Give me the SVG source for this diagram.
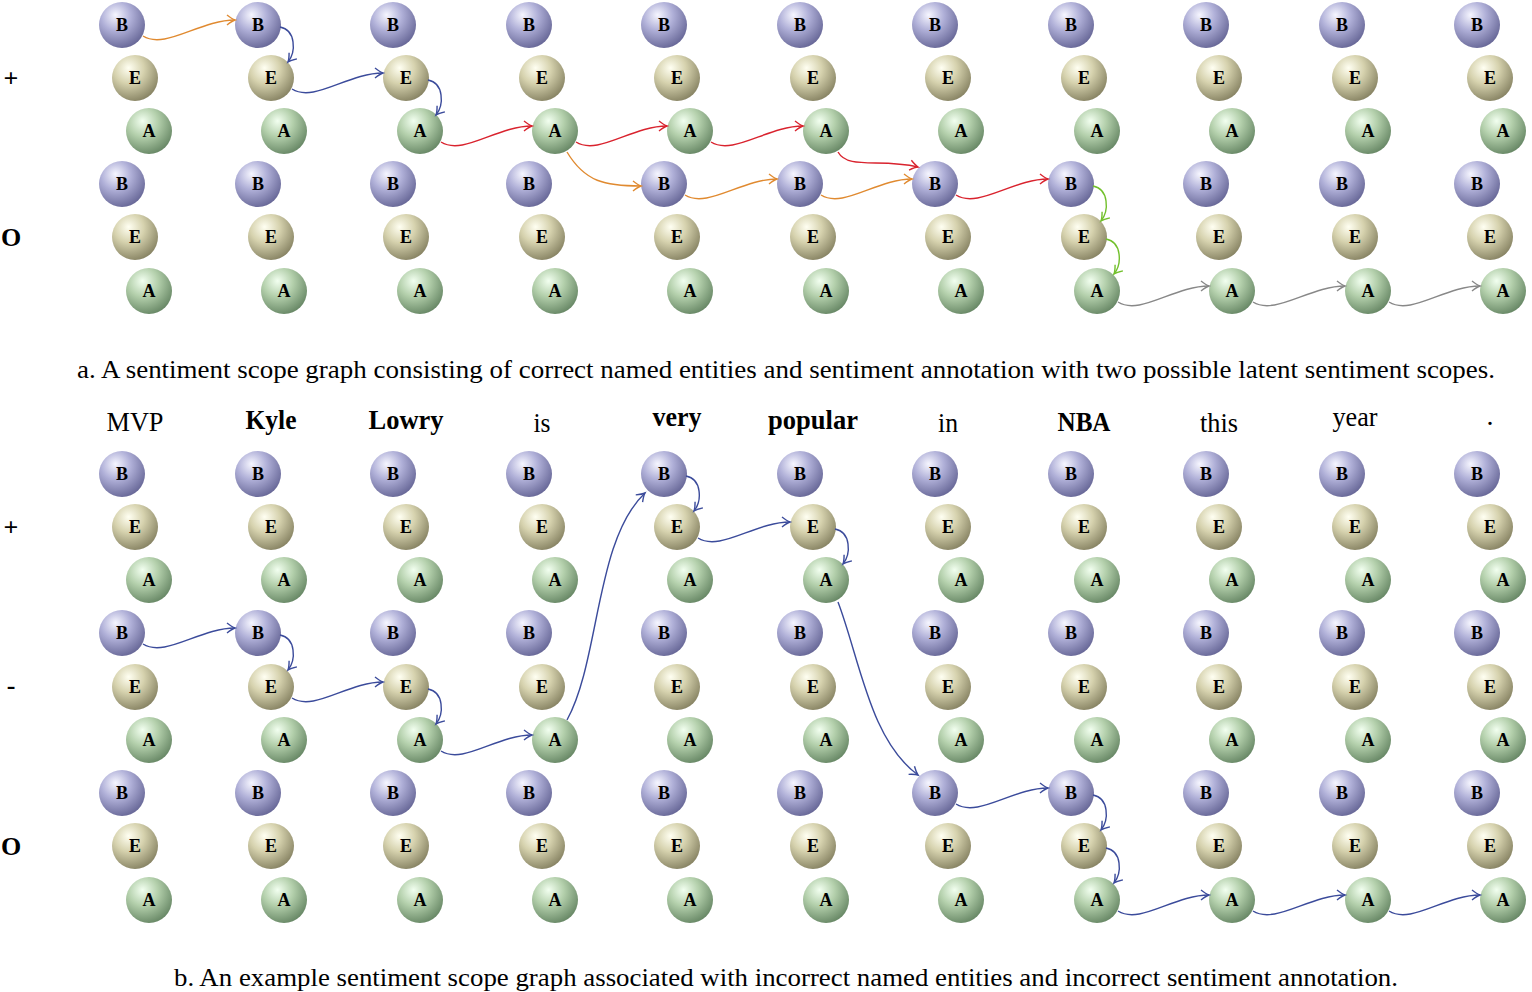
<svg xmlns="http://www.w3.org/2000/svg" width="1532" height="992" viewBox="0 0 1532 992">
<style>
.b{fill:url(#gB)}
.e{fill:url(#gE)}
.a{fill:url(#gA)}
.l{font-family:"Liberation Serif",serif;font-weight:bold;font-size:18px;text-anchor:middle;fill:#000}
.rl{font-family:"Liberation Serif",serif;font-weight:bold;font-size:26px;text-anchor:middle;fill:#000}
.cap{font-family:"Liberation Serif",serif;font-size:26px;fill:#000}
.w{font-family:"Liberation Serif",serif;font-size:28px;text-anchor:middle;fill:#000}
.wb{font-family:"Liberation Serif",serif;font-size:28px;font-weight:bold;text-anchor:middle;fill:#000}
.c{fill:none;stroke-width:1.4}
.or{stroke:#e08a30;marker-end:url(#mOr)}
.bl{stroke:#3b4b9b;marker-end:url(#mBl)}
.rd{stroke:#d9232e;marker-end:url(#mRd)}
.gr{stroke:#72c02c;marker-end:url(#mGr)}
.gy{stroke:#888888;marker-end:url(#mGy)}
</style>
<defs>
<radialGradient id="gB" cx="0.38" cy="0.32" r="0.72" fx="0.36" fy="0.28">
<stop offset="0" stop-color="#f6f6ff"/><stop offset="0.45" stop-color="#b0b0d8"/><stop offset="1" stop-color="#666696"/>
</radialGradient>
<radialGradient id="gE" cx="0.38" cy="0.32" r="0.72" fx="0.36" fy="0.28">
<stop offset="0" stop-color="#fffff2"/><stop offset="0.45" stop-color="#d6d2ae"/><stop offset="1" stop-color="#868262"/>
</radialGradient>
<radialGradient id="gA" cx="0.38" cy="0.32" r="0.72" fx="0.36" fy="0.28">
<stop offset="0" stop-color="#f2fff0"/><stop offset="0.45" stop-color="#b4d0ac"/><stop offset="1" stop-color="#668664"/>
</radialGradient>
<marker id="mOr" markerUnits="userSpaceOnUse" markerWidth="16" markerHeight="16" refX="0" refY="0" viewBox="-10 -8 12 16" orient="auto" overflow="visible"><path d="M-8,-5 Q-3,-1 0,0 Q-3,1 -8,5" fill="none" stroke="#e08a30" stroke-width="1.4"/></marker>
<marker id="mBl" markerUnits="userSpaceOnUse" markerWidth="16" markerHeight="16" refX="0" refY="0" viewBox="-10 -8 12 16" orient="auto" overflow="visible"><path d="M-8,-5 Q-3,-1 0,0 Q-3,1 -8,5" fill="none" stroke="#3b4b9b" stroke-width="1.4"/></marker>
<marker id="mRd" markerUnits="userSpaceOnUse" markerWidth="16" markerHeight="16" refX="0" refY="0" viewBox="-10 -8 12 16" orient="auto" overflow="visible"><path d="M-8,-5 Q-3,-1 0,0 Q-3,1 -8,5" fill="none" stroke="#d9232e" stroke-width="1.4"/></marker>
<marker id="mGr" markerUnits="userSpaceOnUse" markerWidth="16" markerHeight="16" refX="0" refY="0" viewBox="-10 -8 12 16" orient="auto" overflow="visible"><path d="M-8,-5 Q-3,-1 0,0 Q-3,1 -8,5" fill="none" stroke="#72c02c" stroke-width="1.4"/></marker>
<marker id="mGy" markerUnits="userSpaceOnUse" markerWidth="16" markerHeight="16" refX="0" refY="0" viewBox="-10 -8 12 16" orient="auto" overflow="visible"><path d="M-8,-5 Q-3,-1 0,0 Q-3,1 -8,5" fill="none" stroke="#888888" stroke-width="1.4"/></marker>
</defs>
<rect width="1532" height="992" fill="#fff"/>

<!-- Row labels -->
<g id="row-labels">
<text class="rl" x="11" y="87">+</text>
<text class="rl" x="11" y="246">O</text>
<text class="rl" x="11" y="536">+</text>
<text class="rl" x="11" y="694">-</text>
<text class="rl" x="11" y="855">O</text>
</g>

<!-- Part a nodes -->
<g id="part-a-nodes">
<g id="a-pos-B0"><circle class="b" cx="122" cy="25" r="23"/><text class="l" x="122" y="31">B</text></g>
<g id="a-pos-B1"><circle class="b" cx="258" cy="25" r="23"/><text class="l" x="258" y="31">B</text></g>
<g id="a-pos-B2"><circle class="b" cx="393" cy="25" r="23"/><text class="l" x="393" y="31">B</text></g>
<g id="a-pos-B3"><circle class="b" cx="529" cy="25" r="23"/><text class="l" x="529" y="31">B</text></g>
<g id="a-pos-B4"><circle class="b" cx="664" cy="25" r="23"/><text class="l" x="664" y="31">B</text></g>
<g id="a-pos-B5"><circle class="b" cx="800" cy="25" r="23"/><text class="l" x="800" y="31">B</text></g>
<g id="a-pos-B6"><circle class="b" cx="935" cy="25" r="23"/><text class="l" x="935" y="31">B</text></g>
<g id="a-pos-B7"><circle class="b" cx="1071" cy="25" r="23"/><text class="l" x="1071" y="31">B</text></g>
<g id="a-pos-B8"><circle class="b" cx="1206" cy="25" r="23"/><text class="l" x="1206" y="31">B</text></g>
<g id="a-pos-B9"><circle class="b" cx="1342" cy="25" r="23"/><text class="l" x="1342" y="31">B</text></g>
<g id="a-pos-B10"><circle class="b" cx="1477" cy="25" r="23"/><text class="l" x="1477" y="31">B</text></g>

<g id="a-pos-E0"><circle class="e" cx="135" cy="78" r="23"/><text class="l" x="135" y="84">E</text></g>
<g id="a-pos-E1"><circle class="e" cx="271" cy="78" r="23"/><text class="l" x="271" y="84">E</text></g>
<g id="a-pos-E2"><circle class="e" cx="406" cy="78" r="23"/><text class="l" x="406" y="84">E</text></g>
<g id="a-pos-E3"><circle class="e" cx="542" cy="78" r="23"/><text class="l" x="542" y="84">E</text></g>
<g id="a-pos-E4"><circle class="e" cx="677" cy="78" r="23"/><text class="l" x="677" y="84">E</text></g>
<g id="a-pos-E5"><circle class="e" cx="813" cy="78" r="23"/><text class="l" x="813" y="84">E</text></g>
<g id="a-pos-E6"><circle class="e" cx="948" cy="78" r="23"/><text class="l" x="948" y="84">E</text></g>
<g id="a-pos-E7"><circle class="e" cx="1084" cy="78" r="23"/><text class="l" x="1084" y="84">E</text></g>
<g id="a-pos-E8"><circle class="e" cx="1219" cy="78" r="23"/><text class="l" x="1219" y="84">E</text></g>
<g id="a-pos-E9"><circle class="e" cx="1355" cy="78" r="23"/><text class="l" x="1355" y="84">E</text></g>
<g id="a-pos-E10"><circle class="e" cx="1490" cy="78" r="23"/><text class="l" x="1490" y="84">E</text></g>

<g id="a-pos-A0"><circle class="a" cx="149" cy="131" r="23"/><text class="l" x="149" y="137">A</text></g>
<g id="a-pos-A1"><circle class="a" cx="284" cy="131" r="23"/><text class="l" x="284" y="137">A</text></g>
<g id="a-pos-A2"><circle class="a" cx="420" cy="131" r="23"/><text class="l" x="420" y="137">A</text></g>
<g id="a-pos-A3"><circle class="a" cx="555" cy="131" r="23"/><text class="l" x="555" y="137">A</text></g>
<g id="a-pos-A4"><circle class="a" cx="690" cy="131" r="23"/><text class="l" x="690" y="137">A</text></g>
<g id="a-pos-A5"><circle class="a" cx="826" cy="131" r="23"/><text class="l" x="826" y="137">A</text></g>
<g id="a-pos-A6"><circle class="a" cx="961" cy="131" r="23"/><text class="l" x="961" y="137">A</text></g>
<g id="a-pos-A7"><circle class="a" cx="1097" cy="131" r="23"/><text class="l" x="1097" y="137">A</text></g>
<g id="a-pos-A8"><circle class="a" cx="1232" cy="131" r="23"/><text class="l" x="1232" y="137">A</text></g>
<g id="a-pos-A9"><circle class="a" cx="1368" cy="131" r="23"/><text class="l" x="1368" y="137">A</text></g>
<g id="a-pos-A10"><circle class="a" cx="1503" cy="131" r="23"/><text class="l" x="1503" y="137">A</text></g>

<g id="a-o-B0"><circle class="b" cx="122" cy="184" r="23"/><text class="l" x="122" y="190">B</text></g>
<g id="a-o-B1"><circle class="b" cx="258" cy="184" r="23"/><text class="l" x="258" y="190">B</text></g>
<g id="a-o-B2"><circle class="b" cx="393" cy="184" r="23"/><text class="l" x="393" y="190">B</text></g>
<g id="a-o-B3"><circle class="b" cx="529" cy="184" r="23"/><text class="l" x="529" y="190">B</text></g>
<g id="a-o-B4"><circle class="b" cx="664" cy="184" r="23"/><text class="l" x="664" y="190">B</text></g>
<g id="a-o-B5"><circle class="b" cx="800" cy="184" r="23"/><text class="l" x="800" y="190">B</text></g>
<g id="a-o-B6"><circle class="b" cx="935" cy="184" r="23"/><text class="l" x="935" y="190">B</text></g>
<g id="a-o-B7"><circle class="b" cx="1071" cy="184" r="23"/><text class="l" x="1071" y="190">B</text></g>
<g id="a-o-B8"><circle class="b" cx="1206" cy="184" r="23"/><text class="l" x="1206" y="190">B</text></g>
<g id="a-o-B9"><circle class="b" cx="1342" cy="184" r="23"/><text class="l" x="1342" y="190">B</text></g>
<g id="a-o-B10"><circle class="b" cx="1477" cy="184" r="23"/><text class="l" x="1477" y="190">B</text></g>

<g id="a-o-E0"><circle class="e" cx="135" cy="237" r="23"/><text class="l" x="135" y="243">E</text></g>
<g id="a-o-E1"><circle class="e" cx="271" cy="237" r="23"/><text class="l" x="271" y="243">E</text></g>
<g id="a-o-E2"><circle class="e" cx="406" cy="237" r="23"/><text class="l" x="406" y="243">E</text></g>
<g id="a-o-E3"><circle class="e" cx="542" cy="237" r="23"/><text class="l" x="542" y="243">E</text></g>
<g id="a-o-E4"><circle class="e" cx="677" cy="237" r="23"/><text class="l" x="677" y="243">E</text></g>
<g id="a-o-E5"><circle class="e" cx="813" cy="237" r="23"/><text class="l" x="813" y="243">E</text></g>
<g id="a-o-E6"><circle class="e" cx="948" cy="237" r="23"/><text class="l" x="948" y="243">E</text></g>
<g id="a-o-E7"><circle class="e" cx="1084" cy="237" r="23"/><text class="l" x="1084" y="243">E</text></g>
<g id="a-o-E8"><circle class="e" cx="1219" cy="237" r="23"/><text class="l" x="1219" y="243">E</text></g>
<g id="a-o-E9"><circle class="e" cx="1355" cy="237" r="23"/><text class="l" x="1355" y="243">E</text></g>
<g id="a-o-E10"><circle class="e" cx="1490" cy="237" r="23"/><text class="l" x="1490" y="243">E</text></g>

<g id="a-o-A0"><circle class="a" cx="149" cy="291" r="23"/><text class="l" x="149" y="297">A</text></g>
<g id="a-o-A1"><circle class="a" cx="284" cy="291" r="23"/><text class="l" x="284" y="297">A</text></g>
<g id="a-o-A2"><circle class="a" cx="420" cy="291" r="23"/><text class="l" x="420" y="297">A</text></g>
<g id="a-o-A3"><circle class="a" cx="555" cy="291" r="23"/><text class="l" x="555" y="297">A</text></g>
<g id="a-o-A4"><circle class="a" cx="690" cy="291" r="23"/><text class="l" x="690" y="297">A</text></g>
<g id="a-o-A5"><circle class="a" cx="826" cy="291" r="23"/><text class="l" x="826" y="297">A</text></g>
<g id="a-o-A6"><circle class="a" cx="961" cy="291" r="23"/><text class="l" x="961" y="297">A</text></g>
<g id="a-o-A7"><circle class="a" cx="1097" cy="291" r="23"/><text class="l" x="1097" y="297">A</text></g>
<g id="a-o-A8"><circle class="a" cx="1232" cy="291" r="23"/><text class="l" x="1232" y="297">A</text></g>
<g id="a-o-A9"><circle class="a" cx="1368" cy="291" r="23"/><text class="l" x="1368" y="297">A</text></g>
<g id="a-o-A10"><circle class="a" cx="1503" cy="291" r="23"/><text class="l" x="1503" y="297">A</text></g>
</g>

<!-- Part b nodes -->
<g id="part-b-nodes">
<g id="b-pos-B0"><circle class="b" cx="122" cy="474" r="23"/><text class="l" x="122" y="480">B</text></g>
<g id="b-pos-B1"><circle class="b" cx="258" cy="474" r="23"/><text class="l" x="258" y="480">B</text></g>
<g id="b-pos-B2"><circle class="b" cx="393" cy="474" r="23"/><text class="l" x="393" y="480">B</text></g>
<g id="b-pos-B3"><circle class="b" cx="529" cy="474" r="23"/><text class="l" x="529" y="480">B</text></g>
<g id="b-pos-B4"><circle class="b" cx="664" cy="474" r="23"/><text class="l" x="664" y="480">B</text></g>
<g id="b-pos-B5"><circle class="b" cx="800" cy="474" r="23"/><text class="l" x="800" y="480">B</text></g>
<g id="b-pos-B6"><circle class="b" cx="935" cy="474" r="23"/><text class="l" x="935" y="480">B</text></g>
<g id="b-pos-B7"><circle class="b" cx="1071" cy="474" r="23"/><text class="l" x="1071" y="480">B</text></g>
<g id="b-pos-B8"><circle class="b" cx="1206" cy="474" r="23"/><text class="l" x="1206" y="480">B</text></g>
<g id="b-pos-B9"><circle class="b" cx="1342" cy="474" r="23"/><text class="l" x="1342" y="480">B</text></g>
<g id="b-pos-B10"><circle class="b" cx="1477" cy="474" r="23"/><text class="l" x="1477" y="480">B</text></g>

<g id="b-pos-E0"><circle class="e" cx="135" cy="527" r="23"/><text class="l" x="135" y="533">E</text></g>
<g id="b-pos-E1"><circle class="e" cx="271" cy="527" r="23"/><text class="l" x="271" y="533">E</text></g>
<g id="b-pos-E2"><circle class="e" cx="406" cy="527" r="23"/><text class="l" x="406" y="533">E</text></g>
<g id="b-pos-E3"><circle class="e" cx="542" cy="527" r="23"/><text class="l" x="542" y="533">E</text></g>
<g id="b-pos-E4"><circle class="e" cx="677" cy="527" r="23"/><text class="l" x="677" y="533">E</text></g>
<g id="b-pos-E5"><circle class="e" cx="813" cy="527" r="23"/><text class="l" x="813" y="533">E</text></g>
<g id="b-pos-E6"><circle class="e" cx="948" cy="527" r="23"/><text class="l" x="948" y="533">E</text></g>
<g id="b-pos-E7"><circle class="e" cx="1084" cy="527" r="23"/><text class="l" x="1084" y="533">E</text></g>
<g id="b-pos-E8"><circle class="e" cx="1219" cy="527" r="23"/><text class="l" x="1219" y="533">E</text></g>
<g id="b-pos-E9"><circle class="e" cx="1355" cy="527" r="23"/><text class="l" x="1355" y="533">E</text></g>
<g id="b-pos-E10"><circle class="e" cx="1490" cy="527" r="23"/><text class="l" x="1490" y="533">E</text></g>

<g id="b-pos-A0"><circle class="a" cx="149" cy="580" r="23"/><text class="l" x="149" y="586">A</text></g>
<g id="b-pos-A1"><circle class="a" cx="284" cy="580" r="23"/><text class="l" x="284" y="586">A</text></g>
<g id="b-pos-A2"><circle class="a" cx="420" cy="580" r="23"/><text class="l" x="420" y="586">A</text></g>
<g id="b-pos-A3"><circle class="a" cx="555" cy="580" r="23"/><text class="l" x="555" y="586">A</text></g>
<g id="b-pos-A4"><circle class="a" cx="690" cy="580" r="23"/><text class="l" x="690" y="586">A</text></g>
<g id="b-pos-A5"><circle class="a" cx="826" cy="580" r="23"/><text class="l" x="826" y="586">A</text></g>
<g id="b-pos-A6"><circle class="a" cx="961" cy="580" r="23"/><text class="l" x="961" y="586">A</text></g>
<g id="b-pos-A7"><circle class="a" cx="1097" cy="580" r="23"/><text class="l" x="1097" y="586">A</text></g>
<g id="b-pos-A8"><circle class="a" cx="1232" cy="580" r="23"/><text class="l" x="1232" y="586">A</text></g>
<g id="b-pos-A9"><circle class="a" cx="1368" cy="580" r="23"/><text class="l" x="1368" y="586">A</text></g>
<g id="b-pos-A10"><circle class="a" cx="1503" cy="580" r="23"/><text class="l" x="1503" y="586">A</text></g>

<g id="b-neg-B0"><circle class="b" cx="122" cy="633" r="23"/><text class="l" x="122" y="639">B</text></g>
<g id="b-neg-B1"><circle class="b" cx="258" cy="633" r="23"/><text class="l" x="258" y="639">B</text></g>
<g id="b-neg-B2"><circle class="b" cx="393" cy="633" r="23"/><text class="l" x="393" y="639">B</text></g>
<g id="b-neg-B3"><circle class="b" cx="529" cy="633" r="23"/><text class="l" x="529" y="639">B</text></g>
<g id="b-neg-B4"><circle class="b" cx="664" cy="633" r="23"/><text class="l" x="664" y="639">B</text></g>
<g id="b-neg-B5"><circle class="b" cx="800" cy="633" r="23"/><text class="l" x="800" y="639">B</text></g>
<g id="b-neg-B6"><circle class="b" cx="935" cy="633" r="23"/><text class="l" x="935" y="639">B</text></g>
<g id="b-neg-B7"><circle class="b" cx="1071" cy="633" r="23"/><text class="l" x="1071" y="639">B</text></g>
<g id="b-neg-B8"><circle class="b" cx="1206" cy="633" r="23"/><text class="l" x="1206" y="639">B</text></g>
<g id="b-neg-B9"><circle class="b" cx="1342" cy="633" r="23"/><text class="l" x="1342" y="639">B</text></g>
<g id="b-neg-B10"><circle class="b" cx="1477" cy="633" r="23"/><text class="l" x="1477" y="639">B</text></g>

<g id="b-neg-E0"><circle class="e" cx="135" cy="687" r="23"/><text class="l" x="135" y="693">E</text></g>
<g id="b-neg-E1"><circle class="e" cx="271" cy="687" r="23"/><text class="l" x="271" y="693">E</text></g>
<g id="b-neg-E2"><circle class="e" cx="406" cy="687" r="23"/><text class="l" x="406" y="693">E</text></g>
<g id="b-neg-E3"><circle class="e" cx="542" cy="687" r="23"/><text class="l" x="542" y="693">E</text></g>
<g id="b-neg-E4"><circle class="e" cx="677" cy="687" r="23"/><text class="l" x="677" y="693">E</text></g>
<g id="b-neg-E5"><circle class="e" cx="813" cy="687" r="23"/><text class="l" x="813" y="693">E</text></g>
<g id="b-neg-E6"><circle class="e" cx="948" cy="687" r="23"/><text class="l" x="948" y="693">E</text></g>
<g id="b-neg-E7"><circle class="e" cx="1084" cy="687" r="23"/><text class="l" x="1084" y="693">E</text></g>
<g id="b-neg-E8"><circle class="e" cx="1219" cy="687" r="23"/><text class="l" x="1219" y="693">E</text></g>
<g id="b-neg-E9"><circle class="e" cx="1355" cy="687" r="23"/><text class="l" x="1355" y="693">E</text></g>
<g id="b-neg-E10"><circle class="e" cx="1490" cy="687" r="23"/><text class="l" x="1490" y="693">E</text></g>

<g id="b-neg-A0"><circle class="a" cx="149" cy="740" r="23"/><text class="l" x="149" y="746">A</text></g>
<g id="b-neg-A1"><circle class="a" cx="284" cy="740" r="23"/><text class="l" x="284" y="746">A</text></g>
<g id="b-neg-A2"><circle class="a" cx="420" cy="740" r="23"/><text class="l" x="420" y="746">A</text></g>
<g id="b-neg-A3"><circle class="a" cx="555" cy="740" r="23"/><text class="l" x="555" y="746">A</text></g>
<g id="b-neg-A4"><circle class="a" cx="690" cy="740" r="23"/><text class="l" x="690" y="746">A</text></g>
<g id="b-neg-A5"><circle class="a" cx="826" cy="740" r="23"/><text class="l" x="826" y="746">A</text></g>
<g id="b-neg-A6"><circle class="a" cx="961" cy="740" r="23"/><text class="l" x="961" y="746">A</text></g>
<g id="b-neg-A7"><circle class="a" cx="1097" cy="740" r="23"/><text class="l" x="1097" y="746">A</text></g>
<g id="b-neg-A8"><circle class="a" cx="1232" cy="740" r="23"/><text class="l" x="1232" y="746">A</text></g>
<g id="b-neg-A9"><circle class="a" cx="1368" cy="740" r="23"/><text class="l" x="1368" y="746">A</text></g>
<g id="b-neg-A10"><circle class="a" cx="1503" cy="740" r="23"/><text class="l" x="1503" y="746">A</text></g>

<g id="b-o-B0"><circle class="b" cx="122" cy="793" r="23"/><text class="l" x="122" y="799">B</text></g>
<g id="b-o-B1"><circle class="b" cx="258" cy="793" r="23"/><text class="l" x="258" y="799">B</text></g>
<g id="b-o-B2"><circle class="b" cx="393" cy="793" r="23"/><text class="l" x="393" y="799">B</text></g>
<g id="b-o-B3"><circle class="b" cx="529" cy="793" r="23"/><text class="l" x="529" y="799">B</text></g>
<g id="b-o-B4"><circle class="b" cx="664" cy="793" r="23"/><text class="l" x="664" y="799">B</text></g>
<g id="b-o-B5"><circle class="b" cx="800" cy="793" r="23"/><text class="l" x="800" y="799">B</text></g>
<g id="b-o-B6"><circle class="b" cx="935" cy="793" r="23"/><text class="l" x="935" y="799">B</text></g>
<g id="b-o-B7"><circle class="b" cx="1071" cy="793" r="23"/><text class="l" x="1071" y="799">B</text></g>
<g id="b-o-B8"><circle class="b" cx="1206" cy="793" r="23"/><text class="l" x="1206" y="799">B</text></g>
<g id="b-o-B9"><circle class="b" cx="1342" cy="793" r="23"/><text class="l" x="1342" y="799">B</text></g>
<g id="b-o-B10"><circle class="b" cx="1477" cy="793" r="23"/><text class="l" x="1477" y="799">B</text></g>

<g id="b-o-E0"><circle class="e" cx="135" cy="846" r="23"/><text class="l" x="135" y="852">E</text></g>
<g id="b-o-E1"><circle class="e" cx="271" cy="846" r="23"/><text class="l" x="271" y="852">E</text></g>
<g id="b-o-E2"><circle class="e" cx="406" cy="846" r="23"/><text class="l" x="406" y="852">E</text></g>
<g id="b-o-E3"><circle class="e" cx="542" cy="846" r="23"/><text class="l" x="542" y="852">E</text></g>
<g id="b-o-E4"><circle class="e" cx="677" cy="846" r="23"/><text class="l" x="677" y="852">E</text></g>
<g id="b-o-E5"><circle class="e" cx="813" cy="846" r="23"/><text class="l" x="813" y="852">E</text></g>
<g id="b-o-E6"><circle class="e" cx="948" cy="846" r="23"/><text class="l" x="948" y="852">E</text></g>
<g id="b-o-E7"><circle class="e" cx="1084" cy="846" r="23"/><text class="l" x="1084" y="852">E</text></g>
<g id="b-o-E8"><circle class="e" cx="1219" cy="846" r="23"/><text class="l" x="1219" y="852">E</text></g>
<g id="b-o-E9"><circle class="e" cx="1355" cy="846" r="23"/><text class="l" x="1355" y="852">E</text></g>
<g id="b-o-E10"><circle class="e" cx="1490" cy="846" r="23"/><text class="l" x="1490" y="852">E</text></g>

<g id="b-o-A0"><circle class="a" cx="149" cy="900" r="23"/><text class="l" x="149" y="906">A</text></g>
<g id="b-o-A1"><circle class="a" cx="284" cy="900" r="23"/><text class="l" x="284" y="906">A</text></g>
<g id="b-o-A2"><circle class="a" cx="420" cy="900" r="23"/><text class="l" x="420" y="906">A</text></g>
<g id="b-o-A3"><circle class="a" cx="555" cy="900" r="23"/><text class="l" x="555" y="906">A</text></g>
<g id="b-o-A4"><circle class="a" cx="690" cy="900" r="23"/><text class="l" x="690" y="906">A</text></g>
<g id="b-o-A5"><circle class="a" cx="826" cy="900" r="23"/><text class="l" x="826" y="906">A</text></g>
<g id="b-o-A6"><circle class="a" cx="961" cy="900" r="23"/><text class="l" x="961" y="906">A</text></g>
<g id="b-o-A7"><circle class="a" cx="1097" cy="900" r="23"/><text class="l" x="1097" y="906">A</text></g>
<g id="b-o-A8"><circle class="a" cx="1232" cy="900" r="23"/><text class="l" x="1232" y="906">A</text></g>
<g id="b-o-A9"><circle class="a" cx="1368" cy="900" r="23"/><text class="l" x="1368" y="906">A</text></g>
<g id="b-o-A10"><circle class="a" cx="1503" cy="900" r="23"/><text class="l" x="1503" y="906">A</text></g>
</g>

<!-- Connectors -->
<g id="connectors">
<path class="c or" d="M143,36 C165,50 200,20 235,20"/>
<path class="c bl" d="M280,27 C296,30 296,52 288,62"/>
<path class="c bl" d="M292,89 C314,103 348,73 383,73"/>
<path class="c bl" d="M428,80 C444,83 444,105 436,115"/>
<path class="c rd" d="M441,142 C463,156 497,126 532,126"/>
<path class="c rd" d="M576,142 C598,156 632,126 667,126"/>
<path class="c rd" d="M711,142 C733,156 768,126 803,126"/>
<path class="c rd" d="M838,152 C848,170 880,158 918,167"/>
<path class="c or" d="M567,152 C585,182 605,186 641,186"/>
<path class="c or" d="M685,195 C707,209 742,179 777,179"/>
<path class="c or" d="M821,195 C843,209 877,179 912,179"/>
<path class="c rd" d="M956,195 C978,209 1013,179 1048,179"/>
<path class="c gr" d="M1093,186 C1109,189 1109,211 1101,221"/>
<path class="c gr" d="M1106,239 C1122,242 1122,264 1114,274"/>
<path class="c gy" d="M1118,302 C1140,316 1174,286 1209,286"/>
<path class="c gy" d="M1253,302 C1275,316 1310,286 1345,286"/>
<path class="c gy" d="M1389,302 C1411,316 1445,286 1480,286"/>

<path class="c bl" d="M143,644 C165,658 200,628 235,628"/>
<path class="c bl" d="M280,635 C296,638 296,660 288,670"/>
<path class="c bl" d="M292,698 C314,712 348,682 383,682"/>
<path class="c bl" d="M428,689 C444,692 444,714 436,724"/>
<path class="c bl" d="M441,751 C463,765 497,735 532,735"/>
<path class="c bl" d="M567,720 C600,660 595,540 645,493"/>
<path class="c bl" d="M686,476 C702,479 702,501 694,511"/>
<path class="c bl" d="M698,538 C720,552 755,522 790,522"/>
<path class="c bl" d="M835,529 C851,532 851,554 843,564"/>
<path class="c bl" d="M838,602 C860,660 870,740 918,775"/>
<path class="c bl" d="M956,804 C978,818 1013,788 1048,788"/>
<path class="c bl" d="M1093,795 C1109,798 1109,820 1101,830"/>
<path class="c bl" d="M1106,848 C1122,851 1122,873 1114,883"/>
<path class="c bl" d="M1118,911 C1140,925 1174,895 1209,895"/>
<path class="c bl" d="M1253,911 C1275,925 1310,895 1345,895"/>
<path class="c bl" d="M1389,911 C1411,925 1445,895 1480,895"/>
</g>

<!-- Words -->
<g id="words">
<text class="w" x="135" y="431" textLength="57" lengthAdjust="spacingAndGlyphs">MVP</text>
<text class="wb" x="271" y="429" textLength="51" lengthAdjust="spacingAndGlyphs">Kyle</text>
<text class="wb" x="406" y="429" textLength="75" lengthAdjust="spacingAndGlyphs">Lowry</text>
<text class="w" x="542" y="432" textLength="17" lengthAdjust="spacingAndGlyphs">is</text>
<text class="wb" x="677" y="426" textLength="49" lengthAdjust="spacingAndGlyphs">very</text>
<text class="wb" x="813" y="429" textLength="90" lengthAdjust="spacingAndGlyphs">popular</text>
<text class="w" x="948" y="432" textLength="20" lengthAdjust="spacingAndGlyphs">in</text>
<text class="wb" x="1084" y="431" textLength="53" lengthAdjust="spacingAndGlyphs">NBA</text>
<text class="w" x="1219" y="432" textLength="38" lengthAdjust="spacingAndGlyphs">this</text>
<text class="w" x="1355" y="426" textLength="45" lengthAdjust="spacingAndGlyphs">year</text>
<text class="w" x="1490" y="425">.</text>
</g>

<!-- Captions -->
<g id="captions">
<text class="cap" x="77" y="378" textLength="1418" lengthAdjust="spacingAndGlyphs">a. A sentiment scope graph consisting of correct named entities and sentiment annotation with two possible latent sentiment scopes.</text>
<text class="cap" x="174" y="986" textLength="1224" lengthAdjust="spacingAndGlyphs">b. An example sentiment scope graph associated with incorrect named entities and incorrect sentiment annotation.</text>
</g>
</svg>
